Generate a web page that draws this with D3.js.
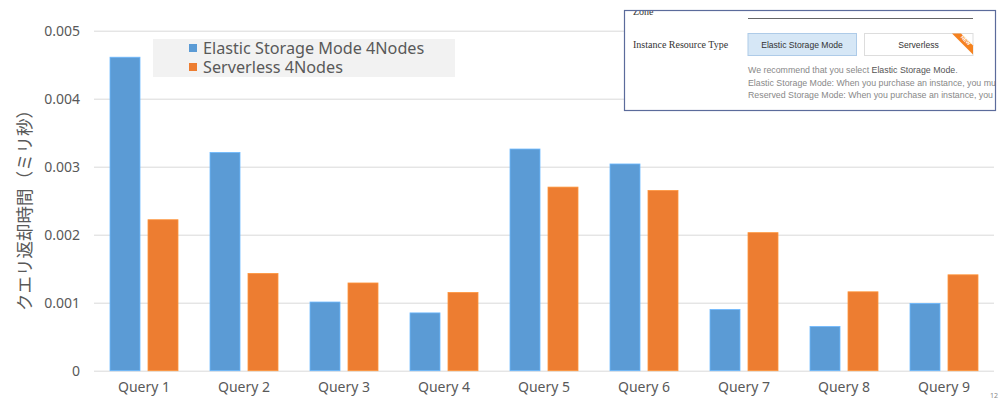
<!DOCTYPE html>
<html>
<head>
<meta charset="utf-8">
<script src="https://cdn.jsdelivr.net/npm/d3@7"></script>
<style>
  body { margin: 0; background: #fff; }
  svg { display: block; }
</style>
</head>
<body>
<svg id="chart"></svg>
<script>
// chart data
const queries = ["Query 1", "Query 2", "Query 3", "Query 4", "Query 5", "Query 6", "Query 7", "Query 8", "Query 9"];
const seriesNames = ["Elastic Storage Mode 4Nodes", "Serverless 4Nodes"];
const elasticValues = [0.00461, 0.00321, 0.00101, 0.00085, 0.00326, 0.00304, 0.00090, 0.00065, 0.00099];
const serverlessValues = [0.00222, 0.00143, 0.00129, 0.00115, 0.00270, 0.00265, 0.00203, 0.00116, 0.00141];
const yTicks = [0, 0.001, 0.002, 0.003, 0.004, 0.005];
const yTitle = "クエリ返却時間（ミリ秒）";

// text from the pasted screenshot inset (cut off at the box edge, as in the picture)
const insetHelpLines = [
    ["We recommend that you select ", "Elastic Storage Mode", "."],
    ["Elastic Storage Mode: When you purchase an instance, you mus"],
    ["Reserved Storage Mode: When you purchase an instance, you a"]
];

const config = {
    width: 1000,
    height: 399,
    margin: { top: 30.7, right: 6, bottom: 28.3, left: 94 },
    colors: ["#5b9bd5", "#ed7d31"],
    font: "'Noto Sans', 'Noto Sans CJK JP', sans-serif"
};

const svg = d3.select("#chart")
    .attr("width", config.width)
    .attr("height", config.height)
    .style("font-family", config.font);

const plotW = config.width - config.margin.left - config.margin.right;
const plotH = config.height - config.margin.top - config.margin.bottom;

const chart = svg.append("g")
    .attr("transform", `translate(${config.margin.left},${config.margin.top})`);

// scales
const xScale = d3.scaleBand().domain(queries).range([0, plotW]).padding(0);
const xSub = d3.scaleBand().domain(seriesNames)
    .range([16, xScale.bandwidth() - 16])
    .paddingInner(0.2105).paddingOuter(0);
const yScale = d3.scaleLinear().domain([0, 0.005]).range([plotH, 0]);
const color = d3.scaleOrdinal().domain(seriesNames).range(config.colors);

// gridlines
chart.append("g")
    .attr("class", "grid")
    .selectAll("line")
    .data(yTicks)
    .join("line")
    .attr("x1", 0)
    .attr("x2", plotW)
    .attr("y1", d => Math.round(yScale(d)) + 0.5)
    .attr("y2", d => Math.round(yScale(d)) + 0.5)
    .attr("stroke", "#d9d9d9")
    .attr("stroke-width", 1);

// y axis labels
const yAxis = d3.axisLeft(yScale)
    .tickValues(yTicks)
    .tickSize(0)
    .tickPadding(14)
    .tickFormat(d => d === 0 ? "0" : d.toFixed(3));
chart.append("g")
    .attr("class", "axis y-axis")
    .call(yAxis)
    .call(g => g.select(".domain").remove())
    .call(g => g.selectAll("text")
        .style("font-family", config.font)
        .style("font-size", "14px")
        .attr("fill", "#595959"));

// x axis labels
const xAxis = d3.axisBottom(xScale).tickSize(0).tickPadding(11);
chart.append("g")
    .attr("class", "axis x-axis")
    .attr("transform", `translate(0,${plotH})`)
    .call(xAxis)
    .call(g => g.select(".domain").remove())
    .call(g => g.selectAll("text")
        .style("font-family", config.font)
        .style("font-size", "14px")
        .attr("fill", "#595959"));

// bars
const barData = [];
queries.forEach((q, i) => {
    barData.push({ query: q, series: seriesNames[0], value: elasticValues[i] });
    barData.push({ query: q, series: seriesNames[1], value: serverlessValues[i] });
});

chart.append("g")
    .attr("class", "bars")
    .selectAll("rect")
    .data(barData)
    .join("rect")
    .attr("x", d => xScale(d.query) + xSub(d.series))
    .attr("y", d => yScale(d.value))
    .attr("width", xSub.bandwidth())
    .attr("height", d => plotH - yScale(d.value))
    .attr("fill", d => color(d.series))
    .attr("stroke", d => d3.color(color(d.series)).brighter(0.5))
    .attr("stroke-width", 0.8);

// y title
svg.append("text")
    .attr("transform", "translate(31,206) rotate(-90)")
    .attr("text-anchor", "middle")
    .style("font-family", "'Noto Sans CJK JP', sans-serif")
    .style("font-size", "17.5px")
    .attr("fill", "#595959")
    .text(yTitle);

// legend
const legend = svg.append("g")
    .attr("class", "legend-g")
    .attr("transform", "translate(153,39)");
legend.append("rect")
    .attr("width", 302)
    .attr("height", 38)
    .attr("fill", "#f2f2f2");
const legendItems = legend.selectAll(".legend-item")
    .data(seriesNames)
    .join("g")
    .attr("class", "legend-item")
    .attr("transform", (d, i) => `translate(36,${5 + i * 19})`);
legendItems.append("rect")
    .attr("width", 8)
    .attr("height", 8)
    .attr("fill", d => color(d));
legendItems.append("text")
    .attr("x", 14)
    .attr("y", 4)
    .attr("dy", "0.35em")
    .style("font-size", "16.2px")
    .attr("fill", "#595959")
    .text(d => d);

// tiny cut off page number at the corner
svg.append("text")
    .attr("x", 990)
    .attr("y", 398)
    .style("font-size", "7px")
    .attr("fill", "#888")
    .text("12");

// inset screenshot of the console
const inset = { x: 624.5, y: 10.5, w: 371, h: 100 };
svg.append("clipPath")
    .attr("id", "inset-clip")
    .append("rect")
    .attr("x", inset.x)
    .attr("y", inset.y)
    .attr("width", inset.w)
    .attr("height", inset.h);

const insetG = svg.append("g").attr("clip-path", "url(#inset-clip)");
insetG.append("rect")
    .attr("x", inset.x)
    .attr("y", inset.y)
    .attr("width", inset.w)
    .attr("height", inset.h)
    .attr("fill", "#fff");

// cut off "Zone" row
insetG.append("text")
    .attr("x", 633)
    .attr("y", 15)
    .style("font-family", "'Liberation Serif', serif")
    .style("font-size", "10px")
    .attr("fill", "#333")
    .text("Zone");
insetG.append("line")
    .attr("x1", 748).attr("x2", 973)
    .attr("y1", 18.5).attr("y2", 18.5)
    .attr("stroke", "#666")
    .attr("stroke-width", 1);

insetG.append("text")
    .attr("x", 633)
    .attr("y", 48)
    .style("font-family", "'Liberation Serif', serif")
    .style("font-size", "10px")
    .attr("fill", "#333")
    .text("Instance Resource Type");

// buttons
const buttons = [
    { label: "Elastic Storage Mode", x: 748, fill: "#d6e7f6", stroke: "#aecbe8" },
    { label: "Serverless", x: 864.5, fill: "#fff", stroke: "#ddd" }
];
buttons.forEach(b => {
    insetG.append("rect")
        .attr("x", b.x)
        .attr("y", 33.5)
        .attr("width", 108.5)
        .attr("height", 22)
        .attr("fill", b.fill)
        .attr("stroke", b.stroke);
    insetG.append("text")
        .attr("x", b.x + 54)
        .attr("y", 47.5)
        .attr("text-anchor", "middle")
        .style("font-family", "'Liberation Sans', Arial, sans-serif")
        .style("font-size", "8.6px")
        .attr("fill", "#333")
        .text(b.label);
});

// "NEW" ribbon at the serverless button corner
insetG.append("path")
    .attr("d", "M952,33.5 L961,33.5 L973,45.5 L973,54.5 Z")
    .attr("fill", "#f5821f");
insetG.append("text")
    .attr("transform", "translate(964.5,41.5) rotate(45)")
    .attr("text-anchor", "middle")
    .style("font-family", "'Liberation Sans', Arial, sans-serif")
    .style("font-size", "5px")
    .style("font-weight", "bold")
    .attr("fill", "#fff")
    .text("NEW");

// help lines
insetG.selectAll(".help")
    .data(insetHelpLines)
    .join("text")
    .attr("class", "help")
    .attr("x", 748)
    .attr("y", (d, i) => 73 + i * 12.5)
    .style("font-family", "'Liberation Sans', Arial, sans-serif")
    .style("font-size", "8.8px")
    .attr("fill", "#888")
    .selectAll("tspan")
    .data(d => d)
    .join("tspan")
    .attr("fill", (d, i) => i === 1 ? "#555" : "#888")
    .text(d => d);

svg.append("rect")
    .attr("x", inset.x)
    .attr("y", inset.y)
    .attr("width", inset.w)
    .attr("height", inset.h)
    .attr("fill", "none")
    .attr("stroke", "#5b6b9b")
    .attr("stroke-width", 1.2);
</script>
</body>
</html>
